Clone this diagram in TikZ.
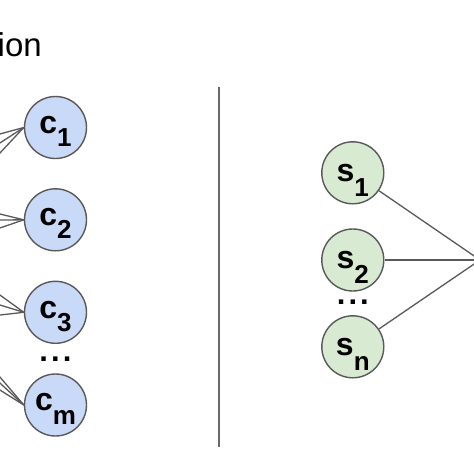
\documentclass[tikz,border=0pt]{standalone}
\usepackage{fontspec}
\setmainfont{Liberation Sans}
\definecolor{cblue}{HTML}{C9DAF8}
\definecolor{cgreen}{HTML}{D9EAD3}
\definecolor{edgegray}{HTML}{595959}
\newcommand\subtxt[2]{\raisebox{-#1pt}{\fontsize{26}{26}\selectfont #2}}
\begin{document}
\begin{tikzpicture}[x=1pt,y=-1pt,
  circ/.style={circle,draw=edgegray,line width=1.4pt,minimum size=62pt,inner sep=0pt},
  bluec/.style={circ,fill=cblue},
  greenc/.style={circ,fill=cgreen},
  lbl/.style={anchor=base,inner sep=0pt,font=\fontsize{32}{32}\selectfont\bfseries},
  dotsn/.style={anchor=base,inner sep=0pt,font=\fontsize{31}{31}\selectfont\bfseries},
  conn/.style={draw=edgegray,line width=1.3pt},
  sep/.style={draw=edgegray!90,line width=1.5pt}]
\useasboundingbox (0,0) rectangle (474,474);
\fill[white] (0,0) rectangle (474,474);

% title fragment
\node[anchor=base west,inner sep=0pt,font=\fontsize{33}{33}\selectfont] (title) at (-2.5,56.7) {ion};

% left column
\node[bluec] (c1) at (55.5,127.5) {};
\node[bluec] (c2) at (55.5,219.8) {};
\node[bluec] (c3) at (55.5,312.3) {};
\node[bluec] (cm) at (55.5,405) {};
\node[lbl] (t1) at ([yshift=-5.7pt]c1.center) {c\subtxt{13.4}{1}};
\node[lbl] (t2) at ([yshift=-5.7pt]c2.center) {c\subtxt{13.4}{2}};
\node[lbl] (t3) at ([yshift=-5.7pt]c3.center) {c\subtxt{13.4}{3}};
\node[lbl] (tm) at ([yshift=-5.7pt]cm.center) {c\subtxt{13.4}{m}};
\node[dotsn] (cdots) at (55.5,361.9) {.\kern3.1pt.\kern3.1pt.};

% fan-in lines from outside the picture
\coordinate (a1) at (-20,139.4);
\coordinate (a2) at (-20,155.9);
\coordinate (a3) at (-20,174.3);
\coordinate (b1) at (-20,209.2);
\coordinate (b2) at (-20,220.2);
\coordinate (b3) at (-20,234.8);
\coordinate (d1) at (-20,280.6);
\coordinate (d2) at (-20,298.9);
\coordinate (d3) at (-20,317.3);
\coordinate (e1) at (-20,353.7);
\coordinate (e2) at (-20,364.7);
\coordinate (e3) at (-20,377.5);
\foreach \p in {a1,a2,a3} \draw[conn] (\p) -- (c1.west);
\foreach \p in {b1,b2,b3} \draw[conn] (\p) -- (c2.west);
\foreach \p in {d1,d2,d3} \draw[conn] (\p) -- (c3.west);
\foreach \p in {e1,e2,e3} \draw[conn] (\p) -- (cm.west);

% separator
\coordinate (sepT) at (219,87);
\coordinate (sepB) at (219,447);
\draw[sep] (sepT) -- (sepB);

% right column
\node[greenc] (s1) at (352.8,172.8) {};
\node[greenc] (s2) at (352.8,260) {};
\node[greenc] (sn) at (352.8,346.8) {};
\node[lbl] (u1) at ([yshift=-8.9pt]s1.center) {s\subtxt{14.3}{1}};
\node[lbl] (u2) at ([yshift=-8.9pt]s2.center) {s\subtxt{14.3}{2}};
\node[lbl] (un) at ([yshift=-8.9pt]sn.center) {s\subtxt{14.3}{n}};
\node[dotsn] (sdots) at (352.8,304) {.\kern3.1pt.\kern3.1pt.};

\coordinate (R) at (480,260);
\draw[conn] (s1) -- (R);
\draw[conn] (s2) -- (R);
\draw[conn] (sn) -- (R);
\end{tikzpicture}
\end{document}
